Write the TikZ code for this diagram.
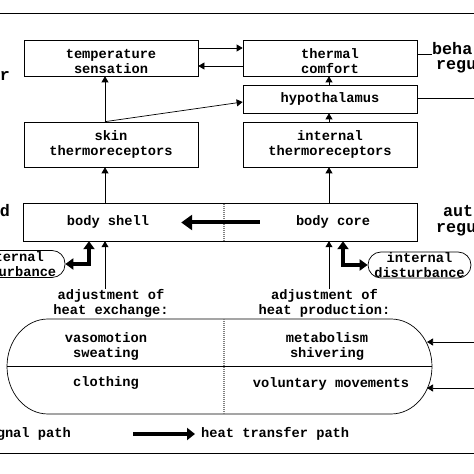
\documentclass[tikz,border=0pt]{standalone}
\usepackage{fontspec}
\setmainfont{Liberation Mono}
\usetikzlibrary{arrows.meta}
\newcommand\dfont{\fontsize{13.7}{15}\selectfont\bfseries}
\newcommand\bigdfont{\fontsize{16.7}{15}\selectfont\bfseries}
\begin{document}
\begin{tikzpicture}[x=1pt,y=1pt,
  box/.style={draw, line width=0.7pt, inner sep=0pt, align=center, font=\dfont, minimum width=174pt},
  txt/.style={inner sep=0pt, align=center, font=\dfont},
  side/.style={inner sep=0pt, font=\bigdfont, text height=9pt, text depth=2pt},
  thinarr/.style={line width=0.7pt, -{Triangle[length=6pt,width=7pt]}},
  heatarr/.style={line width=4pt, -{Triangle[length=11pt,width=15pt]}},
  dblarr/.style={line width=3.5pt, {Triangle[length=8pt,width=11pt]}-{Triangle[length=8pt,width=11pt]}},
  distbox/.style={draw, line width=0.7pt, rounded corners=13pt, inner sep=0pt, align=center, font=\dfont, minimum height=27pt},
  divider/.style={gray, line width=1.6pt, dash pattern=on 1pt off 1pt},
  plain/.style={line width=0.7pt}]
\useasboundingbox (0,0) rectangle (474,474);
\clip (0,0) rectangle (474,474);
\fill[white] (0,0) rectangle (474,474);
% frame lines
\coordinate (tl) at (0,461); \coordinate (tr) at (474,461);
\coordinate (bl) at (0,21); \coordinate (br) at (474,21);
\draw[plain] (tl) -- (tr);
\draw[plain] (bl) -- (br);
% boxes
\node[box, minimum height=36pt] (temp) at (111,416) {};
\node[txt] (temptxt) at ([yshift=-3.5pt]temp.center) {temperature\\sensation};
\node[box, minimum height=36pt] (comfort) at (330,416) {};
\node[txt] (comforttxt) at ([yshift=-3.5pt]comfort.center) {thermal\\comfort};
\node[box, minimum height=28pt] (hypo) at (330,375) {hypothalamus};
\node[box, minimum height=45pt] (skin) at (111,329.5) {skin\\thermoreceptors};
\node[box, minimum height=45pt] (intr) at (330,329.5) {internal\\thermoreceptors};
% body
\node[inner sep=0pt, minimum width=200pt, minimum height=37pt] (shell) at (124,251.5) {};
\node[inner sep=0pt, minimum width=193pt, minimum height=37pt] (core) at (320.5,251.5) {};
\draw[plain] (shell.north west) rectangle (core.south east);
\draw[divider] (shell.north east) -- (shell.south east);
\node[txt] (shelltxt) at (108,252) {body shell};
\node[txt] (coretxt) at (333,252) {body core};
\draw[heatarr] ([xshift=36pt]core.west) -- ([xshift=-43pt]shell.east);
% side labels
\node[side, anchor=base east] (lr) at (10,393) {r};
\node[side, anchor=base east] (ld) at (10,257) {d};
\node[side, anchor=base west] (beha) at (432,419) {beha};
\node[side, anchor=base west] (regu1) at (436,404) {regu};
\node[side, anchor=base west] (aut) at (443,257.5) {aut};
\node[side, anchor=base west] (regu2) at (436,241.5) {regu};
\coordinate (hyporight) at (474,376);
\draw[plain] ([yshift=4pt]comfort.east) -- ([yshift=4pt]comfort.east -| beha.west);
\draw[plain] ([yshift=1pt]hypo.east) -- (hyporight);
% signal arrows
\draw[thinarr] ([xshift=-6pt]skin.north) -- ([xshift=-6pt]temp.south);
\draw[thinarr] ([xshift=-6pt]skin.north) -- ([yshift=-3pt]hypo.west);
\draw[thinarr] ([yshift=10pt]temp.east) -- ([yshift=10pt]comfort.west);
\draw[thinarr] ([yshift=-8pt]comfort.west) -- ([yshift=-8pt]temp.east);
\draw[thinarr] ([xshift=-1pt]hypo.north) -- ([xshift=-1pt]comfort.south);
\draw[thinarr] ([xshift=-1pt]intr.north) -- ([xshift=-1pt]hypo.south);
\draw[thinarr] ([xshift=-1pt]intr.south |- core.north) -- ([xshift=-1pt]intr.south);
\draw[thinarr] ([xshift=-6pt]skin.south |- shell.north) -- ([xshift=-6pt]skin.south);
% adjustment labels
\node[txt] (adjx) at (111,171) {adjustment of\\heat exchange:};
\node[txt] (adjp) at (324.5,171) {adjustment of\\heat production:};
\draw[thinarr] ([xshift=-6pt]adjx.north) -- ([xshift=-6pt]adjx.north |- shell.south);
\draw[thinarr] ([xshift=4.5pt]adjp.north) -- ([xshift=4.5pt]adjp.north |- core.south);
% disturbances
\node[distbox, minimum width=108pt] (ext) at (11,210) {\phantom{ex}ternal\\\phantom{dis}turbance};
\node[distbox, minimum width=103pt, minimum height=26pt] (intd) at (419.5,209) {internal\\disturbance};
\draw[dblarr] (ext.east) -| ([xshift=-22pt]adjx.north |- shell.south);
\draw[dblarr] ([xshift=18.5pt]adjp.north |- core.south) |- (intd.west);
% effector stadium
\draw[plain] (48,155) -- (391,155) arc[start angle=90,end angle=-90,x radius=41,y radius=47.5]
  -- (48,60) arc[start angle=270,end angle=90,x radius=41,y radius=47.5] -- cycle;
\draw[plain] (7,107.5) -- (432,107.5);
\draw[divider] (224,155) -- (224,60);
\node[txt] (vaso) at (106,127.5) {vasomotion\\sweating};
\node[txt] (cloth) at (106,91) {clothing};
\node[txt] (meta) at (327,128) {metabolism\\shivering};
\node[txt] (volun) at (331,90) {voluntary movements};
\coordinate (in1) at (474,132); \coordinate (e1) at (427,132);
\coordinate (in2) at (474,86); \coordinate (e2) at (427,86);
\draw[thinarr] (in1) -- (e1);
\draw[thinarr] (in2) -- (e2);
% legend
\node[txt, anchor=base east] (sig) at (71,36) {\phantom{si}gnal path};
\node[txt, anchor=base west] (heattxt) at (201,36) {heat transfer path};
\coordinate (lg1) at (133,40);
\draw[line width=4pt, -{Triangle[length=8pt,width=12pt]}] (lg1) -- ([xshift=-6pt]heattxt.west |- lg1);
\end{tikzpicture}
\end{document}
